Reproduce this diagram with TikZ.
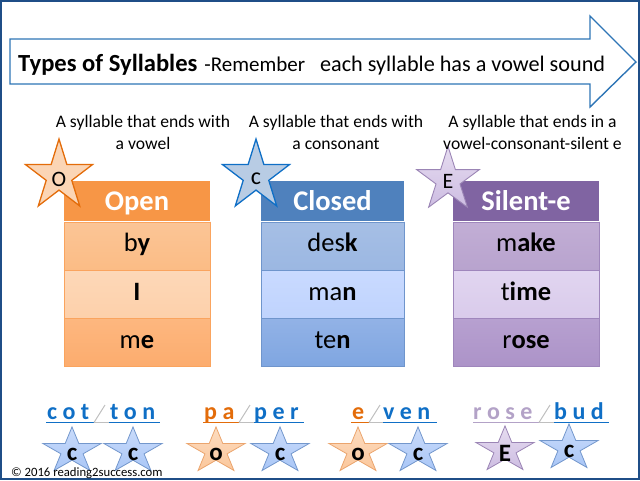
\documentclass[tikz,border=0pt]{standalone}
\usepackage{fontspec}
\setmainfont{Carlito}
\usetikzlibrary{shapes.geometric}
\definecolor{framecol}{HTML}{1F4E87}
\definecolor{arrowcol}{HTML}{2E75B6}
\definecolor{orangecol}{HTML}{E36C0A}
\definecolor{bluecol}{HTML}{0F6FC6}
\definecolor{lilaccol}{HTML}{B3A2C7}
\definecolor{slashcol}{HTML}{BFBFBF}
\definecolor{ofill}{HTML}{FBD5B5}
\definecolor{cfill}{HTML}{B8CCE4}
\definecolor{cedge}{HTML}{7397CC}
\definecolor{ctop}{HTML}{CADCFB}
\definecolor{cbot}{HTML}{A9C6F6}
\definecolor{oedge}{HTML}{EBA56E}
\definecolor{otop}{HTML}{FCDCC0}
\definecolor{obot}{HTML}{FBC79C}
\definecolor{eedge}{HTML}{9B85B5}
\definecolor{etop}{HTML}{E6DCF0}
\definecolor{ebot}{HTML}{CDBDE2}
\tikzset{
  cell/.style={minimum width=#1,minimum height=48.5pt,inner sep=0pt,text height=17pt,text depth=6pt,font=\fontsize{26.5}{26.5}\selectfont,text=black},
  head/.style={minimum width=#1,minimum height=40pt,inner sep=0pt,text height=20pt,text depth=2pt,font=\fontsize{28.5}{28.5}\selectfont\bfseries,text=white},
  bigstar/.style={star,star points=5,star point ratio=2.62,minimum size=70.4pt,inner sep=0pt,yscale=1.05},
  smallstar/.style={star,star points=5,star point ratio=2.62,minimum size=61pt,inner sep=0pt,yscale=.79},
  cstar/.style={smallstar,draw=cedge,line width=.8pt,top color=ctop,bottom color=cbot},
  ostar/.style={smallstar,draw=oedge,line width=.8pt,top color=otop,bottom color=obot},
  estar/.style={smallstar,draw=eedge,line width=.8pt,top color=etop,bottom color=ebot},
  caption/.style={font=\fontsize{17.6}{22}\selectfont,align=center,text=black},
  word/.style={anchor=base west,inner sep=0pt,font=\fontsize{24}{24}\selectfont\bfseries},
  starletter/.style={font=\fontsize{25}{25}\selectfont\bfseries,inner sep=0pt,text=black},
}
\begin{document}
\begin{tikzpicture}[x=1pt,y=-1pt]
  \useasboundingbox (0,0) rectangle (640,480);
  \draw[framecol,line width=2.5pt] (1,1) rectangle (639,479);
  % banner
  \draw[arrowcol,line width=1.4pt,fill=white] (10,39) -- (590,39) -- (590,16) -- (636,62)
    -- (590,107) -- (590,84) -- (10,84) -- cycle;
  \node[anchor=base west,inner sep=0pt,font=\fontsize{24.6}{24.6}\selectfont] (title) at (18,71)
    {\textbf{Types of Syllables}\hspace{7pt}\fontsize{21}{21}\selectfont-Remember\hspace{15pt}\fontsize{22.2}{22.2}\selectfont each syllable has a vowel sound};
  % columns
  \foreach \n/\x/\w/\txt/\hcol/\ca/\cb/\cc/\cd/\ce/\cf/\lin in {
      open/137/146/Open/F79646/FBC596/FBBC85/FDD8B8/FDD0AA/FDB77F/FCAC6E/FAA45E,
      closed/332.5/143/Closed/4F81BD/A6BFE5/9BB7E2/C9DAFF/BFD3FD/92B2E6/7FA6E1/6F95CC,
      silent/526/146/Silent-e/8064A2/C2AED5/B8A3CE/E1D5F0/D9CBEB/B7A0D0/AC93C8/9F86BC}{
    \definecolor{hc}{HTML}{\hcol}
    \definecolor{c1}{HTML}{\ca}
    \definecolor{c2}{HTML}{\cb}
    \definecolor{c3}{HTML}{\cc}
    \definecolor{c4}{HTML}{\cd}
    \definecolor{c5}{HTML}{\ce}
    \definecolor{c6}{HTML}{\cf}
    \definecolor{lc}{HTML}{\lin}
    \node[head=\w pt,fill=hc] (\n-head) at (\x,201) {\txt};
    \node[cell=\w pt,top color=c1,bottom color=c2] (\n-1) at (\x,246) {};
    \node[cell=\w pt,top color=c3,bottom color=c4] (\n-2) at (\x,294.5) {};
    \node[cell=\w pt,top color=c5,bottom color=c6] (\n-3) at (\x,342.5) {};
    \draw[lc,line width=.8pt] (\x-\w/2,222) rectangle (\x+\w/2,366.5);
    \draw[lc,line width=.8pt] (\x-\w/2,270.5) -- (\x+\w/2,270.5);
    \draw[lc,line width=.8pt] (\x-\w/2,318.5) -- (\x+\w/2,318.5);
    \draw[white,line width=1.2pt] (\x-\w/2,221.5) -- (\x+\w/2,221.5);
  }
  \foreach \n/\a/\b/\c in {open/b\textbf{y}/\textbf{I}/m\textbf{e},
      closed/des\textbf{k}/ma\textbf{n}/te\textbf{n},
      silent/m\textbf{ake}/t\textbf{ime}/r\textbf{ose}}{
    \node[cell=10pt] at (\n-1) {\a};
    \node[cell=10pt] at (\n-2) {\b};
    \node[cell=10pt] at (\n-3) {\c};
  }
  % corner stars
  \node[bigstar,draw=orangecol,line width=1.3pt,fill=ofill] (star-o) at (59,176) {};
  \node[font=\fontsize{22}{22}\selectfont] (letter-o) at (59,179) {O};
  \node[bigstar,draw=bluecol,line width=1.3pt,fill=cfill] (star-c) at (256,176) {};
  \node[font=\fontsize{24}{24}\selectfont] (letter-c) at (256,179) {c};
  \node[star,star points=5,star point ratio=2.62,minimum size=66pt,inner sep=0pt,yscale=1.02,
    draw=eedge,line width=.9pt,top color=etop,bottom color=ebot] (star-e) at (448,180) {};
  \node[font=\fontsize{22}{22}\selectfont] (letter-e) at (448,181) {E};
  % captions
  \node[caption] (cap-open) at (143,132) {A syllable that ends with\\a vowel};
  \node[caption] (cap-closed) at (336,132) {A syllable that ends with\\a consonant};
  \node[caption] (cap-silent) at (532.5,132) {A syllable that ends in a\\vowel-consonant-silent e};
  % syllable words
  \foreach \n/\x/\col/\txt in {
      cot/47/bluecol/c o t,ton/110/bluecol/t o n,
      pa/204/orangecol/p a,per/254/bluecol/p e r,
      e/352/orangecol/e,ven/383/bluecol/v e n,
      rose/473/lilaccol/r o s e,bud/554/bluecol/b u d}
    \node[word,text=\col] (\n) at (\x,419) {\txt};
  \foreach \a/\b/\col in {46/94/bluecol,109/160/bluecol,203/239/orangecol,254/304/bluecol,
      351/369/orangecol,383/437/bluecol,473/539/lilaccol,554/609/bluecol}
    \draw[\col,line width=1.2pt] (\a,422.5) -- (\b,422.5);
  \foreach \a/\b in {94/109,239/254,369/383,539/554}{
    \draw[slashcol,line width=1pt] (\a,422.5) -- (\b,422.5);
    \draw[slashcol,line width=1pt] (\a,422.5) -- (\a+11,405);
  }
  % syllable stars
  \foreach \n/\x/\y/\kind/\l in {
      s1/72/451/cstar/c,s2/133/451/cstar/c,s3/216/451/ostar/o,s4/280/451/cstar/c,
      s5/358/451/ostar/o,s6/418/451/cstar/c,s7/505/450/estar/E,s8/569/448/cstar/c}{
    \node[\kind] (\n) at (\x,\y) {};
    \node[starletter] (\n-l) at (\x,\y+3) {\l};
  }
  \node[anchor=base west,inner sep=0pt,font=\fontsize{12.7}{12.7}\selectfont] (copy) at (11,476) {© 2016 reading2success.com};
\end{tikzpicture}
\end{document}
